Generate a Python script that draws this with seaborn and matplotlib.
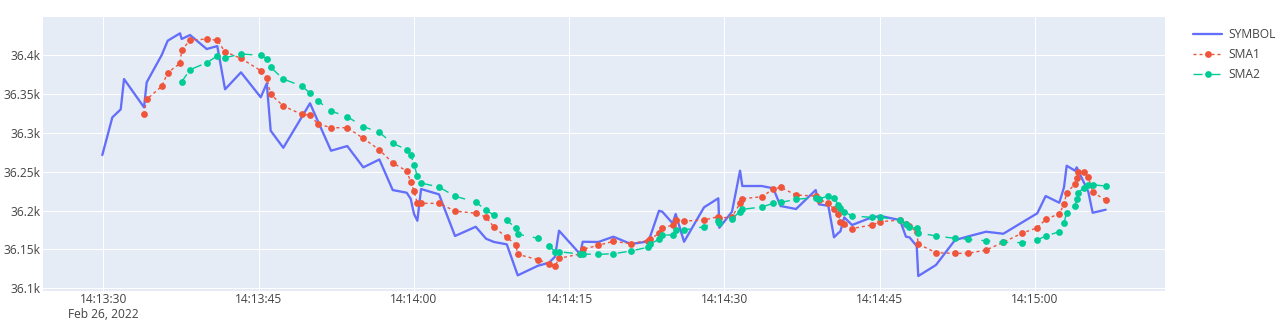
import numpy as np
import pandas as pd
import matplotlib
matplotlib.use("Agg")
import matplotlib.pyplot as plt
import seaborn as sns

# ---- data (seconds after 2022-02-26 14:13:30) ----
secs = [-0.1, 0.87, 1.68, 2.0, 3.93, 4.19, 5.64, 6.22, 7.41, 7.57,
        8.38, 9.99, 11.01, 11.76, 13.30, 15.21, 15.79, 16.17, 17.39, 19.17,
        19.97, 20.71, 22.0, 23.57, 25.12, 26.67, 27.96, 29.31, 29.70, 30.02,
        30.34, 30.70, 32.43, 33.98, 35.98, 36.98, 37.75, 38.98, 39.85, 40.04,
        42.0, 43.06, 43.64, 44.03, 46.06, 46.32, 47.83, 49.28, 50.99, 52.58,
        52.82, 53.69, 54.01, 55.01, 55.30, 56.11, 58.04, 59.42, 59.52, 60.74,
        61.52, 61.74, 63.61, 64.73, 65.43, 66.93, 68.83, 69.15, 70.05, 70.60,
        71.01, 71.21, 71.59, 72.34, 74.24, 75.09, 76.97, 77.55, 77.89, 78.59,
        78.74, 80.45, 82.29, 83.57, 85.29, 86.96, 88.79, 90.24, 91.05, 92.37,
        92.82, 93.08, 93.89, 94.05, 94.15, 94.78, 95.17, 95.59, 96.85]

symbol = [36271.4, 36319.9, 36330.2, 36369.2, 36332.8, 36365.0, 36400.1, 36418.5, 36428.0, 36420.7,
          36425.8, 36407.8, 36411.6, 36356.0, 36377.8, 36345.7, 36363.7, 36302.7, 36280.8, 36320.3,
          36338.0, 36315.6, 36277.0, 36283.0, 36255.6, 36265.7, 36226.4, 36223.0, 36215.1, 36195.6,
          36186.9, 36227.7, 36220.9, 36167.3, 36179.2, 36163.8, 36159.6, 36156.6, 36123.9, 36116.7,
          36129.1, 36132.9, 36140.6, 36174.1, 36144.1, 36159.9, 36159.6, 36166.4, 36157.0, 36160.2,
          36166.0, 36199.8, 36198.5, 36183.6, 36195.6, 36159.9, 36204.2, 36215.8, 36177.9, 36198.5,
          36251.3, 36231.6, 36231.6, 36228.6, 36205.9, 36202.0, 36226.4, 36208.0, 36206.2, 36165.6,
          36171.1, 36173.1, 36191.3, 36181.4, 36191.3, 36193.0, 36187.8, 36166.4, 36165.6, 36154.4,
          36115.8, 36130.0, 36162.1, 36166.8, 36172.8, 36170.2, 36184.9, 36196.5, 36218.7, 36210.1,
          36229.9, 36257.7, 36251.3, 36255.6, 36252.9, 36235.1, 36224.2, 36197.2, 36201.1]

nan = np.nan
sma1 = [nan, nan, nan, nan, 36324.2, 36343.1, 36359.8, 36377.3, 36389.4, 36406.5,
        36419.0, 36420.7, 36419.0, 36404.3, 36395.8, 36379.9, 36370.9, 36349.5, 36334.5, 36323.8,
        36322.9, 36311.7, 36306.6, 36306.6, 36292.9, 36278.1, 36261.4, 36250.9, 36237.0, 36225.1,
        36209.3, 36209.3, 36209.3, 36199.4, 36196.5, 36191.7, 36178.5, 36165.6, 36156.3, 36143.7,
        36136.8, 36131.6, 36128.3, 36138.6, 36144.1, 36150.2, 36155.3, 36160.5, 36157.4, 36161.5,
        36163.0, 36170.7, 36177.2, 36181.4, 36187.8, 36186.6, 36187.8, 36192.3, 36190.4, 36191.7,
        36209.3, 36215.2, 36217.8, 36227.7, 36229.9, 36220.0, 36218.7, 36214.2, 36209.7, 36201.6,
        36195.6, 36185.7, 36182.1, 36176.9, 36181.4, 36185.7, 36187.8, 36183.3, 36180.1, 36172.4,
        36157.0, 36145.8, 36145.0, 36145.0, 36149.3, 36159.2, 36171.1, 36177.9, 36188.7, 36196.0,
        36208.0, 36223.0, 36234.2, 36241.5, 36249.6, 36249.6, 36243.5, 36223.5, 36213.6]

sma2 = [nan, nan, nan, nan, nan, nan, nan, nan, nan, 36365.7,
        36381.2, 36390.2, 36398.8, 36396.6, 36401.4, 36399.7, 36395.3, 36384.3, 36369.2, 36360.2,
        36351.2, 36341.3, 36328.0, 36320.7, 36308.1, 36300.5, 36286.5, 36278.5, 36271.8, 36259.2,
        36244.1, 36235.4, 36230.3, 36218.5, 36211.0, 36200.7, 36193.9, 36187.5, 36177.9, 36169.8,
        36164.3, 36154.8, 36147.1, 36147.1, 36144.1, 36144.1, 36143.7, 36144.5, 36148.0, 36152.7,
        36157.0, 36163.0, 36168.6, 36168.6, 36175.0, 36175.0, 36179.2, 36186.9, 36183.6, 36189.8,
        36198.5, 36201.6, 36204.6, 36209.3, 36210.4, 36214.5, 36216.8, 36215.1, 36218.7, 36215.8,
        36207.8, 36203.7, 36198.5, 36193.0, 36191.3, 36191.3, 36187.8, 36182.3, 36178.5, 36177.2,
        36171.5, 36167.3, 36164.3, 36163.0, 36161.2, 36159.2, 36158.7, 36162.1, 36167.3, 36172.8,
        36184.4, 36197.2, 36205.9, 36214.9, 36223.0, 36229.4, 36233.2, 36233.2, 36231.6]

series_names = ["SYMBOL", "SMA1", "SMA2"]
tick_secs = [0, 15, 30, 45, 60, 75, 90]
y_ticks = [36100, 36150, 36200, 36250, 36300, 36350, 36400]
y_tick_labels = ["36.1k", "36.15k", "36.2k", "36.25k", "36.3k", "36.35k", "36.4k"]

# ---- style ----
sns.set_style("darkgrid", {"axes.facecolor": "#E5ECF6", "grid.color": "white"})
plt.rcParams["font.family"] = ["Open Sans", "DejaVu Sans"]
plt.rcParams["lines.scale_dashes"] = False

PX = 72 / 100.0  # points per pixel at dpi 100
W, H = 1285, 332

base = pd.Timestamp("2022-02-26 14:13:30")
df = pd.DataFrame({
    "time": base + pd.to_timedelta(secs, unit="s"),
    "SYMBOL": symbol,
    "SMA1": sma1,
    "SMA2": sma2,
})

fig = plt.figure(figsize=(W / 100, H / 100), dpi=100)
left, right, top, bottom = 43, 1165, 17, 290.5
ax = fig.add_axes([left / W, 1 - bottom / H, (right - left) / W, (bottom - top) / H])

sns.lineplot(data=df, x="time", y="SYMBOL", ax=ax, color="#636EFA",
             linewidth=2.3 * PX, label=series_names[0], estimator=None, sort=False)
d1 = df.dropna(subset=["SMA1"])
sns.lineplot(data=d1, x="time", y="SMA1", ax=ax, color="#EF553B",
             linewidth=1.4 * PX, linestyle=(0, (3 * PX, 3 * PX)), marker="o",
             markersize=6.8 * PX, markeredgewidth=0, label=series_names[1],
             estimator=None, sort=False)
d2 = df.dropna(subset=["SMA2"])
sns.lineplot(data=d2, x="time", y="SMA2", ax=ax, color="#00CC96",
             linewidth=1.4 * PX, linestyle=(0, (9 * PX, 9 * PX)), marker="o",
             markersize=6.8 * PX, markeredgewidth=0, label=series_names[2],
             estimator=None, sort=False)

ax.set_xlim(base + pd.Timedelta(seconds=-5.83), base + pd.Timedelta(seconds=102.58))
ax.set_ylim(36097.2, 36449)

xt = [base + pd.Timedelta(seconds=s) for s in tick_secs]
ax.set_xticks(xt)
xlabels = [t.strftime("%H:%M:%S") for t in xt]
xlabels[0] = xlabels[0] + "\n" + xt[0].strftime("%b %d, %Y")
ax.set_xticklabels(xlabels, linespacing=1.2)
ax.set_yticks(y_ticks)
ax.set_yticklabels(y_tick_labels)

ax.set_xlabel("")
ax.set_ylabel("")
ax.grid(True, color="white", linewidth=1 * PX)
for s in ax.spines.values():
    s.set_visible(False)
ax.tick_params(axis="both", length=0, labelsize=12 * PX, colors="#444444")
ax.tick_params(axis="x", pad=2)
ax.tick_params(axis="y", pad=1.5)

handles, labels = ax.get_legend_handles_labels()
if ax.get_legend() is not None:
    ax.get_legend().remove()
fig.legend(handles, labels, loc="upper left",
           bbox_to_anchor=(1193 / W, 1 - 28.5 / H), bbox_transform=fig.transFigure,
           frameon=False, borderpad=0, borderaxespad=0,
           handlelength=2.42, handletextpad=0.5, labelspacing=0.58,
           prop={"size": 12 * PX}, labelcolor="#444444")

fig.savefig("out.png", dpi=100, facecolor="white")
